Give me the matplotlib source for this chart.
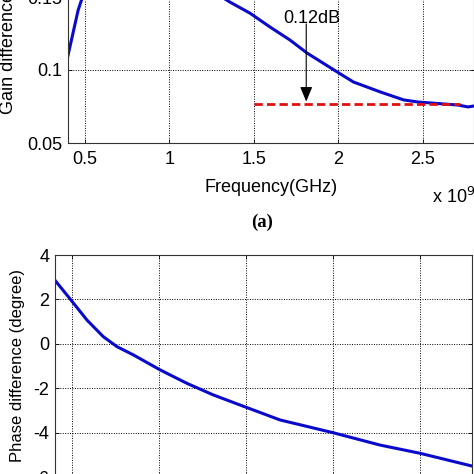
# gain / phase difference vs frequency, MATLAB-style figure
import matplotlib
matplotlib.use('Agg')
import matplotlib.pyplot as plt

plt.rcParams['font.family'] = ['Liberation Sans', 'DejaVu Sans']
plt.rcParams['axes.unicode_minus'] = False

# (a) gain difference, frequency in GHz (axis shows x 10^9)
freq_gain = [0.40, 0.46, 0.48, 0.60, 0.80, 1.00, 1.20, 1.357, 1.476, 1.595,
             1.714, 1.815, 1.994, 2.089, 2.25, 2.387, 2.47, 2.708, 2.768, 2.80]
gain = [0.110, 0.141, 0.148, 0.172, 0.185, 0.180, 0.158, 0.1466, 0.139, 0.1295,
        0.1205, 0.1116, 0.0986, 0.0918, 0.0849, 0.0795, 0.0781, 0.0760, 0.0747, 0.0753]
ref_freq = [1.5, 2.72]
ref_gain = [0.0765, 0.0765]

# (b) phase difference
freq_phase = [0.402, 0.489, 0.584, 0.678, 0.757, 0.851, 1.006, 1.159,
              1.31, 1.466, 1.695, 1.998, 2.27, 2.5, 2.797]
phase = [2.84, 2.0, 1.07, 0.32, -0.13, -0.5, -1.18, -1.78,
         -2.3, -2.76, -3.43, -4.0, -4.56, -4.93, -5.5]

xticks = [0.5, 1, 1.5, 2, 2.5]
xticklabels = ['0.5', '1', '1.5', '2', '2.5']

W = 474.0
fig = plt.figure(figsize=(4.74, 4.74), dpi=100)


def style(ax):
    ax.grid(True, color='k', linestyle=(0, (1, 1.5)), linewidth=0.7)
    ax.tick_params(direction='in', length=3, labelsize=13, top=True, right=True,
                   pad=4, width=0.6)
    for s in ax.spines.values():
        s.set_color('#333333')
        s.set_linewidth(0.8)


# top panel
ax1 = fig.add_axes([68 / W, (W - 143) / W, 405.5 / W, 219 / W])
ax1.plot(freq_gain, gain, color='#0a0acc', lw=2.2)
ax1.plot(ref_freq, ref_gain, color='#e01010', lw=2, dashes=(3, 1.5))
ax1.set_xlim(0.4, 2.8)
ax1.set_ylim(0.05, 0.2)
ax1.set_yticks([0.05, 0.1, 0.15, 0.2])
ax1.set_yticklabels(['0.05', '0.1', '0.15', '0.2'])
ax1.set_xticks(xticks)
ax1.set_xticklabels(xticklabels)
style(ax1)
ax1.tick_params(axis='x', pad=6)
ax1.set_xlabel('Frequency(GHz)', fontsize=13, labelpad=8)
ax1.set_ylabel('Gain difference (dB)', fontsize=13)
ax1.yaxis.set_label_coords(-0.126, 0.5)
ax1.annotate('', xy=(1.81, 0.0765), xytext=(1.81, 0.1335),
             arrowprops=dict(arrowstyle='-|>,head_length=0.6,head_width=0.25',
                             color='k', lw=0.8, mutation_scale=15))
ax1.text(1.845, 0.1356, '0.12dB', ha='center', va='center', fontsize=13)
ax1.text(0.898, -0.245, r'x 10$^{9}$', transform=ax1.transAxes,
         fontsize=13, ha='left', va='center')

fig.text(262 / W, 1 - 222 / W, '(a)', ha='center', va='center',
         fontsize=13.5, fontweight='bold', family='Liberation Serif')

# bottom panel
ax2 = fig.add_axes([55 / W, (W - 477) / W, 417 / W, 222 / W])
ax2.plot(freq_phase, phase, color='#0a0acc', lw=2.2)
ax2.set_xlim(0.4, 2.8)
ax2.set_ylim(-6, 4)
ax2.set_yticks([-6, -4, -2, 0, 2, 4])
ax2.set_xticks(xticks)
ax2.set_xticklabels(xticklabels)
style(ax2)
ax2.set_ylabel('Phase difference (degree)', fontsize=12)
ax2.yaxis.set_label_coords(-0.072, 0.5)

fig.savefig('out.png', dpi=100)
